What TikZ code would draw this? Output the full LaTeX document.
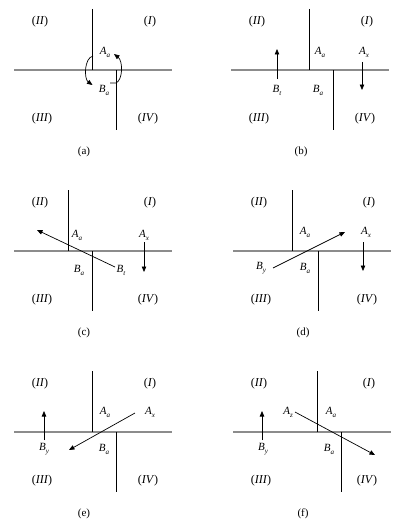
\documentclass[tikz,border=0pt]{standalone}
\usepackage{fontspec}
\setmainfont{Liberation Serif}
\usepackage{xcolor}
\usetikzlibrary{arrows.meta}
\definecolor{ink}{HTML}{000000}
\definecolor{floorgray}{HTML}{8C8C8C}
\tikzset{
  floor/.style={draw=floorgray, line width=1.3pt},
  wall/.style={draw=ink, line width=0.8pt},
  vec/.style={draw=ink, line width=0.7pt, -{Triangle[length=5.5pt,width=4.5pt]}},
  quad/.style={text=ink, font=\fontsize{12}{14}\selectfont, inner sep=0pt},
  lab/.style={text=ink, font=\fontsize{11}{13}\selectfont, inner sep=0pt},
  capt/.style={text=ink, font=\fontsize{11}{13}\selectfont, inner sep=0pt}
}
\newcommand\sym[2]{\textit{#1}\raisebox{-0.6ex}{\fontsize{7}{8}\selectfont\textit{#2}}}

\begin{document}
\begin{tikzpicture}[x=1pt,y=-1pt]
  \useasboundingbox (0,0) rectangle (406,527);
  % frame of each panel
  \foreach \px/\py/\u/\w/\c in {14/70/92/116/a, 231/70/309/333/b, 14/251/68/92/c,
                                233/251/292/318/d, 14/432/92/116/e, 233/432/317/341/f}{
    \coordinate (L-\c) at (\px,\py);
    \coordinate (R-\c) at (\px+158,\py);
    \coordinate (T-\c) at (\u,\py-61);
    \coordinate (M-\c) at (\u,\py);
    \coordinate (N-\c) at (\w,\py);
    \coordinate (D-\c) at (\w,\py+60);
    \draw[floor] (L-\c) -- (R-\c);
    \draw[wall] (T-\c) -- (M-\c);
    \draw[wall] (N-\c) -- (D-\c);
    \node[quad] (II-\c) at (\px+26,\py-48) {(\textit{II})};
    \node[quad] (I-\c) at (\px+136,\py-48) {(\textit{I})};
    \node[quad] (III-\c) at (\px+28,\py+49) {(\textit{III})};
    \node[quad] (IV-\c) at (\px+134,\py+49) {(\textit{IV})};
    \node[capt] (cap-\c) at (\px+70,\py+82) {(\c)};
  }
  % (a)
  \node[lab] (Aa-a) at (105,52) {\sym{A}{a}};
  \node[lab] (Ba-a) at (104,90) {\sym{B}{a}};
  \coordinate (s1-a) at (93,56);
  \coordinate (e1-a) at (92.5,85);
  \coordinate (s2-a) at (110,83);
  \coordinate (k2-a) at (116,83);
  \coordinate (e2-a) at (114,54);
  \draw[vec] (s1-a) .. controls (84,58) and (84,79) .. (e1-a);
  \draw[vec] (s2-a) -- (k2-a) .. controls (123,80) and (123,61) .. (e2-a);
  % (b)
  \node[lab] (Aa-b) at (320,52) {\sym{A}{a}};
  \node[lab] (Ax-b) at (364,52) {\sym{A}{x}};
  \node[lab] (Bt-b) at (277,90) {\sym{B}{t}};
  \node[lab] (Ba-b) at (318,90) {\sym{B}{a}};
  \coordinate (s1-b) at (362,62);
  \coordinate (e1-b) at (362,90);
  \coordinate (s2-b) at (277,79);
  \coordinate (e2-b) at (277,49);
  \draw[vec] (s1-b) -- (e1-b);
  \draw[vec] (s2-b) -- (e2-b);
  % (c)
  \node[lab] (Aa-c) at (77,235) {\sym{A}{a}};
  \node[lab] (Ax-c) at (144,235) {\sym{A}{x}};
  \node[lab] (Ba-c) at (79,270) {\sym{B}{a}};
  \node[lab] (Bt-c) at (121,270) {\sym{B}{t}};
  \coordinate (s1-c) at (144,242);
  \coordinate (e1-c) at (144,272);
  \coordinate (s2-c) at (115,267);
  \coordinate (e2-c) at (37,230);
  \draw[vec] (s1-c) -- (e1-c);
  \draw[vec] (s2-c) -- (e2-c);
  % (d)
  \node[lab] (Aa-d) at (305,232) {\sym{A}{a}};
  \node[lab] (Ax-d) at (366,232) {\sym{A}{x}};
  \node[lab] (By-d) at (261,268) {\sym{B}{y}};
  \node[lab] (Ba-d) at (305,268) {\sym{B}{a}};
  \coordinate (s1-d) at (363,242);
  \coordinate (e1-d) at (363,271);
  \coordinate (s2-d) at (273,268);
  \coordinate (e2-d) at (345,232);
  \draw[vec] (s1-d) -- (e1-d);
  \draw[vec] (s2-d) -- (e2-d);
  % (e)
  \node[lab] (Aa-e) at (105,412) {\sym{A}{a}};
  \node[lab] (Ax-e) at (150,412) {\sym{A}{x}};
  \node[lab] (By-e) at (44,449) {\sym{B}{y}};
  \node[lab] (Ba-e) at (104,449) {\sym{B}{a}};
  \coordinate (s1-e) at (44,440);
  \coordinate (e1-e) at (44,411);
  \coordinate (s2-e) at (135,413);
  \coordinate (e2-e) at (69,450);
  \draw[vec] (s1-e) -- (e1-e);
  \draw[vec] (s2-e) -- (e2-e);
  % (f)
  \node[lab] (Az-f) at (288,412) {\sym{A}{z}};
  \node[lab] (Aa-f) at (331,412) {\sym{A}{a}};
  \node[lab] (By-f) at (263,449) {\sym{B}{y}};
  \node[lab] (Ba-f) at (329,449) {\sym{B}{a}};
  \coordinate (s1-f) at (262,440);
  \coordinate (e1-f) at (262,411);
  \coordinate (s2-f) at (295,412);
  \coordinate (e2-f) at (375,455);
  \draw[vec] (s1-f) -- (e1-f);
  \draw[vec] (s2-f) -- (e2-f);
\end{tikzpicture}
\end{document}
